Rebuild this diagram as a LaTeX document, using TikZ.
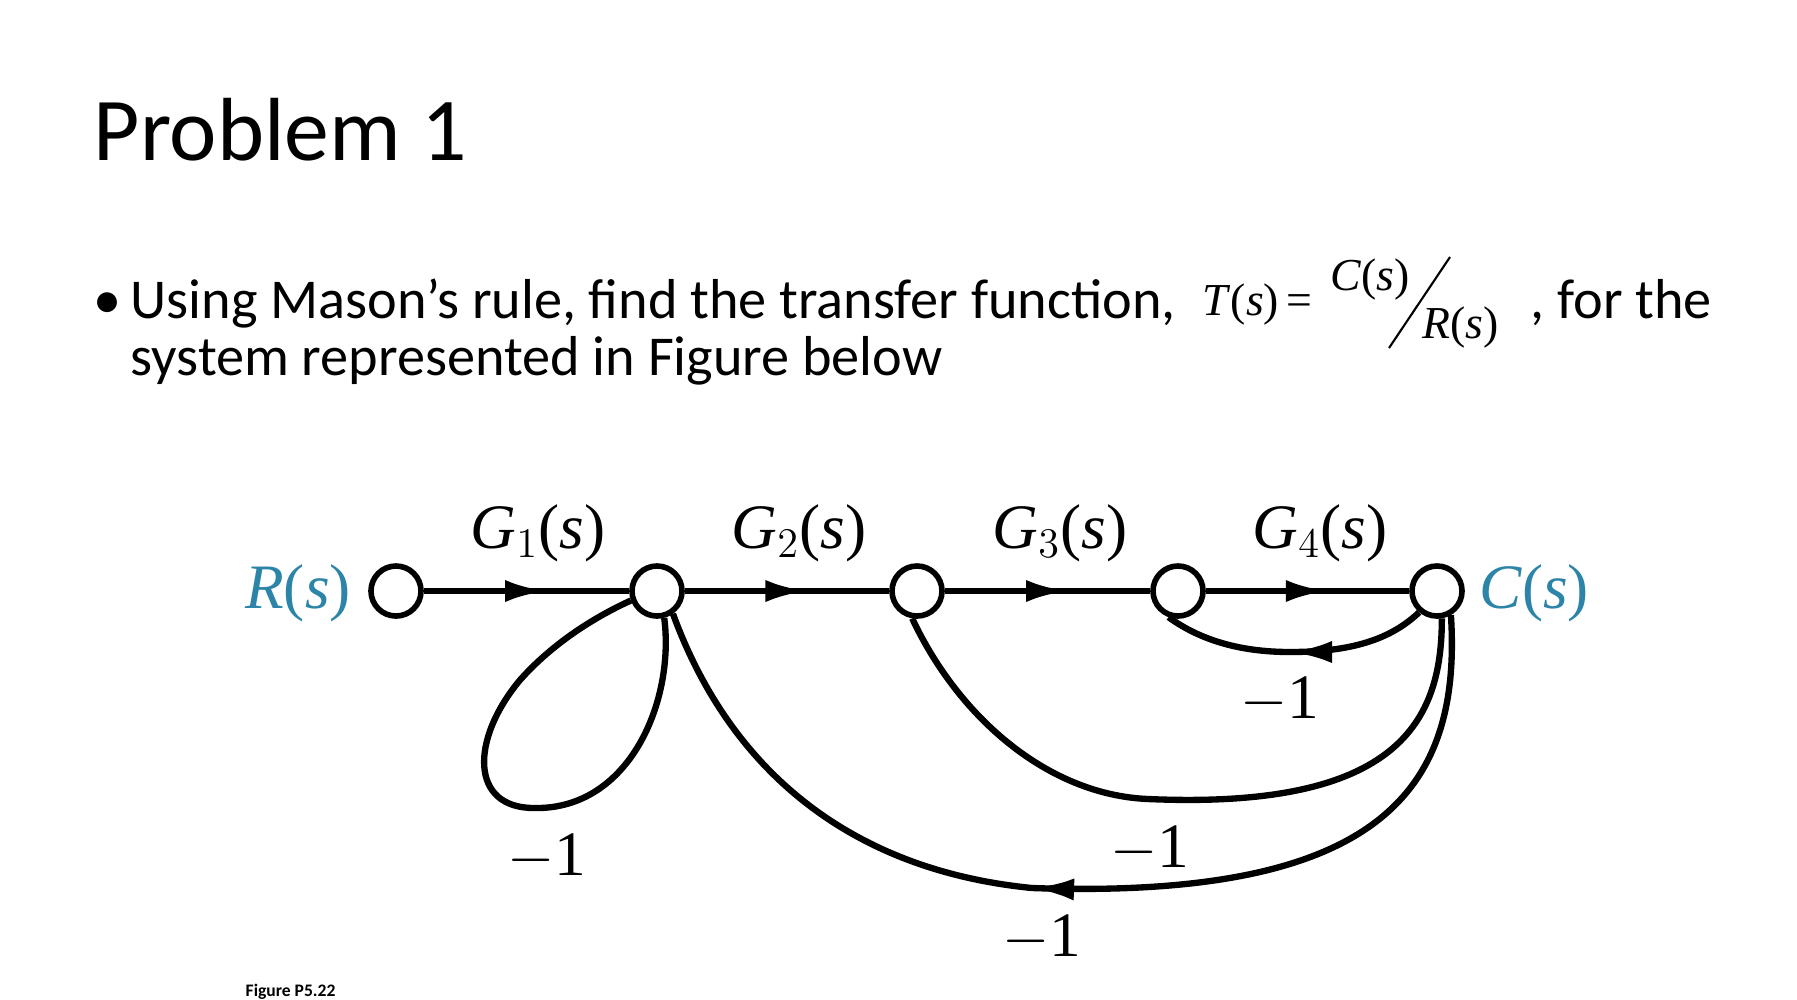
\documentclass[tikz,border=0pt]{standalone}
\usepackage{fontspec}
\setmainfont{Carlito}
\newfontfamily\tms{Liberation Serif}
\usetikzlibrary{arrows.meta,decorations.markings}
\definecolor{teal1}{HTML}{2C84A8}
\tikzset{
 sn/.style={circle,draw,line width=1.6pt,minimum size=0.5cm,inner sep=0pt,fill=white},
 br/.style={line width=1.8pt},
 tip/.style={postaction={decorate},decoration={markings,mark=at position 1 with {\arrow{Latex[length=0.42cm,width=0.22cm]}}}},
 fa/.style={br,postaction={decorate},decoration={markings,mark=at position 0.6 with {\arrow{Latex[length=0.42cm,width=0.22cm]}}}},
 lb/.style={font=\tms\fontsize{18}{21}\selectfont,inner sep=0pt},
 tx/.style={anchor=base west,inner sep=0pt,font=\fontsize{16}{19}\selectfont},
}
\begin{document}
\begin{tikzpicture}[x=0.01cm,y=-0.01cm]
\useasboundingbox (0,0) rectangle (1797,999);
\node[anchor=base west,inner sep=0pt,font=\fontsize{25.5}{30}\selectfont] (title) at (93,160) {Problem 1};
\node[tx] (b) at (93,318) {\textbullet};
\node[tx] (l1) at (130,318) {Using Mason’s rule, find the transfer function,};
\node[tx] (l2) at (130,375) {system represented in Figure below};
\node[anchor=base west,inner sep=0pt,font=\tms\fontsize{13}{15}\selectfont] (T) at (1202,315) {\textit{T}(\textit{s})\,=};
\node[anchor=base west,inner sep=0pt,font=\tms\fontsize{13}{15}\selectfont] (C) at (1330,290) {\textit{C}(\textit{s})};
\node[anchor=base west,inner sep=0pt,font=\tms\fontsize{13}{15}\selectfont] (Rr) at (1422,338) {\textit{R}(\textit{s})};
\draw[line width=0.6pt] (1389,348) -- (1450,257);
\node[tx] (l3) at (1530,318) {, for the};
\node[sn] (n1) at (396,591) {};
\node[sn] (n2) at (657,591) {};
\node[sn] (n3) at (917,591) {};
\node[sn] (n4) at (1178,591) {};
\node[sn] (n5) at (1437,591) {};
\node[lb,text=teal1] (R) at (298,593) {\textit{R}(\textit{s})};
\node[lb,text=teal1] (Cs) at (1534,593) {\textit{C}(\textit{s})};
\node[lb] (g1) at (538,533) {\textit{G}$_1$(\textit{s})};
\node[lb] (g2) at (799,533) {\textit{G}$_2$(\textit{s})};
\node[lb] (g3) at (1060,533) {\textit{G}$_3$(\textit{s})};
\node[lb] (g4) at (1320,533) {\textit{G}$_4$(\textit{s})};
\draw[fa] (n1) -- (n2);
\draw[fa] (n2) -- (n3);
\draw[fa] (n3) -- (n4);
\draw[fa] (n4) -- (n5);
\coordinate (a1) at (534,808);
\coordinate (a2) at (1148,799);
\coordinate (a3) at (1032,888);
\coordinate (a4) at (1290,652);
\draw[br,tip] (n2.-75) .. controls (675,700) and (630,810) .. (a1);
\draw[br] (a1) .. controls (470,808) and (470,740) .. (520,680) .. controls (560,635) and (610,610) .. (n2.200);
\draw[br,tip] (n5.-80) .. controls (1442,720) and (1400,810) .. (a2);
\draw[br] (a2) .. controls (1050,795) and (960,720) .. (n3.-100);
\draw[br,tip] (n5.-60) .. controls (1462,790) and (1380,900) .. (a3);
\draw[br] (a3) .. controls (850,870) and (730,770) .. (n2.-55);
\draw[br,tip] (n5.-130) .. controls (1390,640) and (1350,652) .. (a4);
\draw[br] (a4) .. controls (1240,652) and (1200,640) .. (n4.-110);
\node[lb] (m1) at (547,857) {$-$1};
\node[lb] (m2) at (1150,849) {$-$1};
\node[lb] (m3) at (1042,938) {$-$1};
\node[lb] (m4) at (1280,700) {$-$1};
\node[anchor=base west,inner sep=0pt,font=\bfseries\fontsize{5}{6}\selectfont] (fig) at (245,996) {Figure P5.22};
\end{tikzpicture}
\end{document}
